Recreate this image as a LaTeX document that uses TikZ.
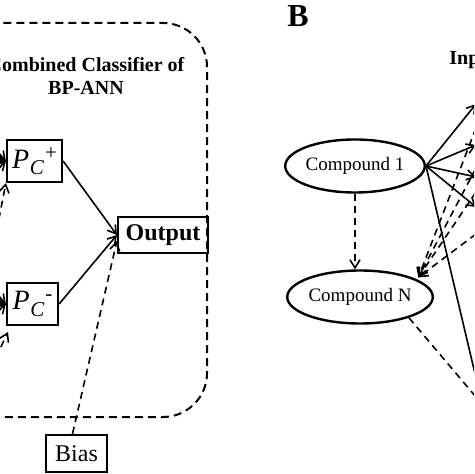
\documentclass[tikz,border=0pt]{standalone}
\usepackage{fontspec}
\setmainfont{Liberation Serif}
\usetikzlibrary{arrows.meta,shapes.geometric,calc}
\newcommand{\pcsym}[1]{{\itshape P}\kern0.3pt\raisebox{-3.2pt}{\fontsize{10.5}{10.5}\selectfont\itshape C}\kern0.6pt\raisebox{4.6pt}{\fontsize{10.5}{10.5}\selectfont #1}}
\tikzset{
  boxnode/.style={draw, rectangle, line width=1.1pt, inner sep=0pt},
  ell/.style={draw, ellipse, line width=1.2pt, inner sep=0pt, minimum width=68pt, minimum height=26.5pt, font=\fontsize{9.5}{11}\selectfont},
  arr/.style={line width=0.8pt, -{Straight Barb[length=4pt,width=5pt]}},
  darr/.style={arr, dash pattern=on 3.5pt off 2.5pt},
  dline/.style={line width=0.8pt, dash pattern=on 3.5pt off 2.5pt},
  groupframe/.style={line width=1pt, dash pattern=on 4pt off 2.5pt, rounded corners=22pt},
  pfont/.style={font=\fontsize{14}{14}\selectfont}
}
\begin{document}
\begin{tikzpicture}[x=0.5pt,y=-0.5pt]
\path[use as bounding box, clip] (0,0) rectangle (474,474);
\fill[white] (0,0) rectangle (474,474);

% ----- panel A -----
\draw[groupframe] (-80,23) rectangle (207,417);
\node[font=\bfseries\fontsize{10}{11.5}\selectfont, align=center] (title) at (86,76) {Combined Classifier of\\BP-ANN};

\node[boxnode, pfont, minimum width=27.5pt, minimum height=21pt] (pcp) at (34.5,161) {\pcsym{+}};
\node[boxnode, pfont, minimum width=25.5pt, minimum height=21pt] (pcm) at (32.5,304) {\pcsym{-}};
\node[boxnode, font=\bfseries\fontsize{12}{12}\selectfont, minimum width=45pt, minimum height=18pt] (out) at (163,235) {Output};
\node[boxnode, font=\fontsize{12}{12}\selectfont, minimum width=30.5pt, minimum height=18.5pt] (bias) at (76.5,453.5) {Bias};

\draw[arr] (pcp.east) -- (out.west);
\draw[arr] (pcm.east) -- (out.west);
\draw[darr] ([xshift=-2pt]bias.north) -- ([yshift=-3pt]out.west);

\coordinate (la1) at (-40,110);
\coordinate (la2) at (-40,150);
\coordinate (la3) at (-40,178);
\coordinate (la4) at (-40,205);
\coordinate (ld1) at (-15,290);
\draw[arr] (la1) -- (pcp.west);
\draw[arr] (la2) -- (pcp.west);
\draw[arr] (la3) -- (pcp.west);
\draw[darr] (la4) -- (pcp.west);
\draw[darr] (ld1) -- (pcp.south west);

\coordinate (la5) at (-40,252);
\coordinate (la6) at (-40,292);
\coordinate (la7) at (-40,318);
\coordinate (la8) at (-40,348);
\coordinate (ld2) at (-30,412);
\coordinate (ld2e) at (8,332);
\draw[arr] (la5) -- (pcm.west);
\draw[arr] (la6) -- (pcm.west);
\draw[arr] (la7) -- (pcm.west);
\draw[darr] (la8) -- (pcm.west);
\draw[darr] (ld2) -- (ld2e);

% ----- panel B -----
\node[font=\bfseries\fontsize{16}{16}\selectfont] (B) at (298,16) {B};
\node[font=\bfseries\fontsize{10}{10}\selectfont, anchor=west, inner sep=0pt] (inp) at (449,60) {Input};

\node[ell] (c1) at (355,166) {Compound 1};
\node[ell] (cN) at (360,297) {Compound N};
\draw[darr] (c1.south) -- (c1.south |- cN.north);

\coordinate (in1) at (476,104);
\coordinate (in2) at (476,145);
\coordinate (in3) at (476,177);
\coordinate (in4) at (476,207);
\coordinate (o1) at (476,378);
\draw[arr] (c1.east) -- (in1);
\draw[arr] (c1.east) -- (in2);
\draw[arr] (c1.east) -- (in3);
\draw[arr] (c1.east) -- (in4);
\draw[line width=0.8pt] (c1.east) -- (o1);

\coordinate (dn1) at (476,128);
\coordinate (dn2) at (476,168);
\coordinate (dn3) at (476,192);
\coordinate (dn4) at (476,234);
\coordinate (o2) at (476,397);
\draw[darr] (dn1) -- ([xshift=3pt]cN.north east);
\draw[darr] (dn2) -- ([xshift=3pt]cN.north east);
\draw[darr] (dn3) -- ([xshift=3pt]cN.north east);
\draw[darr] (dn4) -- ([xshift=3pt]cN.north east);
\draw[dline] (cN.-23) -- (o2);
\end{tikzpicture}
\end{document}
